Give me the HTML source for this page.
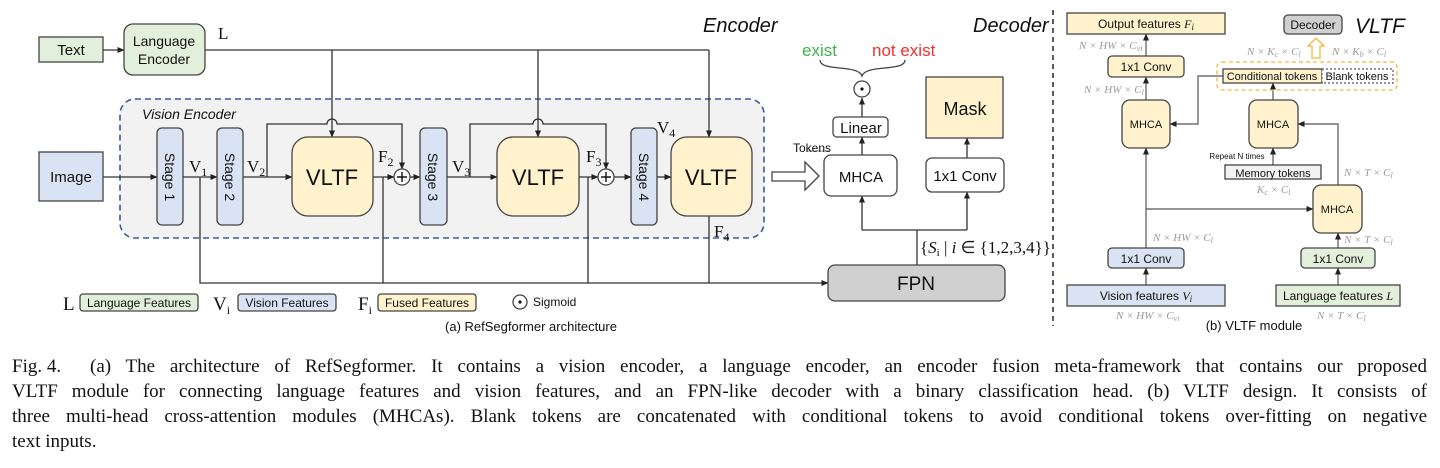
<!DOCTYPE html>
<html><head><meta charset="utf-8"><style>
html,body{margin:0;padding:0;background:#fff;width:1440px;height:468px;overflow:hidden}
svg{position:absolute;left:0;top:0}
.s{font-family:"Liberation Sans",sans-serif;fill:#111}
.r{font-family:"Liberation Serif",serif;fill:#111}
.g{font-family:"Liberation Serif",serif;font-style:italic;fill:#9a9a9a;font-size:11px}
.cap{position:absolute;left:12px;width:1415px;height:25px;font-family:"Liberation Serif",serif;font-size:19px;line-height:25px;color:#111;text-align:justify;text-align-last:justify;white-space:normal;overflow:hidden}
</style></head><body>
<svg width="1440" height="468" viewBox="0 0 1440 468">
<defs>
<marker id="a" viewBox="0 0 8 8" refX="7.5" refY="4" markerWidth="7" markerHeight="7" orient="auto" markerUnits="userSpaceOnUse"><path d="M0,0.5 L8,4 L0,7.5z" fill="#222"/></marker>
</defs>
<g stroke="#333" stroke-width="1.3" fill="none">
<rect x="120" y="99" width="644" height="139" rx="15" fill="#f2f2f2" stroke="#3c5a9a" stroke-width="1.6" stroke-dasharray="6,4"/>
<path d="M103,50H124" marker-end="url(#a)"/>
<path d="M205,50H709"/>
<path d="M332,50V137" marker-end="url(#a)"/>
<path d="M538,50V137" marker-end="url(#a)"/>
<path d="M709,50V137" marker-end="url(#a)"/>
<path d="M103,177H157" marker-end="url(#a)"/>
<path d="M183,177H217" marker-end="url(#a)"/>
<path d="M243,177H292" marker-end="url(#a)"/>
<path d="M373,177H394" marker-end="url(#a)"/>
<path d="M410,177H420" marker-end="url(#a)"/>
<path d="M447,177H497" marker-end="url(#a)"/>
<path d="M579,177H598" marker-end="url(#a)"/>
<path d="M614,177H631" marker-end="url(#a)"/>
<path d="M657,177H671" marker-end="url(#a)"/>
<path d="M267,177V124H327A5,5 0 0 1 337,124H402V169" marker-end="url(#a)"/>
<path d="M470,177V124H533A5,5 0 0 1 543,124H606V169" marker-end="url(#a)"/>
<path d="M200,177V283H828" marker-end="url(#a)"/>
<path d="M383,177V283"/>
<path d="M588,177V283"/>
<path d="M709,216V283"/>
<path d="M917,265V230M862,230H967"/>
<path d="M862,230V196" marker-end="url(#a)"/>
<path d="M967,230V192" marker-end="url(#a)"/>
<path d="M862,155V137" marker-end="url(#a)"/>
<path d="M862,117V98" marker-end="url(#a)"/>
<path d="M967,158V138" marker-end="url(#a)"/>
<path d="M820,60C820,72 858,64 862,76C866,64 905,72 905,60" stroke="#444"/>
</g>
<g stroke="#444" stroke-width="1.3">
<rect x="39" y="37" width="64" height="25" fill="#e2efda"/>
<rect x="124" y="24" width="81" height="51" rx="9" fill="#e2efda"/>
<rect x="39" y="152" width="64" height="49" fill="#dae3f3"/>
<rect x="157" y="128" width="26" height="97" rx="5" fill="#dae3f3"/>
<rect x="217" y="128" width="26" height="97" rx="5" fill="#dae3f3"/>
<rect x="420" y="128" width="27" height="97" rx="5" fill="#dae3f3"/>
<rect x="631" y="128" width="26" height="97" rx="5" fill="#dae3f3"/>
<rect x="292" y="137" width="81" height="79" rx="16" fill="#fff2cc"/>
<rect x="497" y="137" width="82" height="79" rx="16" fill="#fff2cc"/>
<rect x="671" y="137" width="81" height="79" rx="16" fill="#fff2cc"/>
<circle cx="402" cy="177" r="8" fill="#fff"/>
<circle cx="606" cy="177" r="8" fill="#fff"/>
<rect x="828" y="265" width="177" height="36" rx="7" fill="#d0d0d0"/>
<polygon points="772,172 805,172 805,162 819,176 805,190 805,181 772,181" fill="#fff"/>
<rect x="824" y="155" width="73" height="41" rx="7" fill="#fff"/>
<rect x="833" y="117" width="55" height="20" rx="4" fill="#fff"/>
<circle cx="862" cy="89" r="8" fill="#fff"/>
<rect x="926" y="77" width="77" height="61" fill="#fff2cc"/>
<rect x="926" y="158" width="78" height="34" rx="6" fill="#fff"/>
<rect x="80" y="294" width="118" height="17" rx="3" fill="#e2efda"/>
<rect x="238" y="294" width="98" height="17" rx="3" fill="#dae3f3"/>
<rect x="378" y="294" width="98" height="17" rx="3" fill="#fff2cc"/>
<circle cx="520" cy="302" r="7" fill="#fff"/>
</g>
<g stroke="#111" stroke-width="1.4"><path d="M397,177H407M402,172V182M601,177H611M606,172V182"/></g>
<circle cx="862" cy="89" r="1.6" fill="#111"/><circle cx="520" cy="302" r="1.6" fill="#111"/>
<path d="M807,151H830" stroke="#888" stroke-width="1"/>
<g class="s" text-anchor="middle">
<text x="71" y="55" font-size="15">Text</text>
<text x="164" y="46" font-size="14">Language</text>
<text x="164" y="64" font-size="14">Encoder</text>
<text x="71" y="182" font-size="15">Image</text>
<text x="332" y="185" font-size="22">VLTF</text>
<text x="538" y="185" font-size="22">VLTF</text>
<text x="711" y="185" font-size="22">VLTF</text>
<text x="916" y="290" font-size="19">FPN</text>
<text x="861" y="182" font-size="15">MHCA</text>
<text x="861" y="133" font-size="15">Linear</text>
<text x="965" y="115" font-size="18">Mask</text>
<text x="965" y="181" font-size="15">1x1 Conv</text>
<text x="139" y="307" font-size="12">Language Features</text>
<text x="287" y="307" font-size="12">Vision Features</text>
<text x="427" y="307" font-size="12">Fused Features</text>
<text x="531" y="331" font-size="13">(a) RefSegformer architecture</text>
</g>
<g class="s" font-size="14">
<text transform="translate(165,177) rotate(90)" text-anchor="middle">Stage 1</text>
<text transform="translate(225,177) rotate(90)" text-anchor="middle">Stage 2</text>
<text transform="translate(428,177) rotate(90)" text-anchor="middle">Stage 3</text>
<text transform="translate(639,177) rotate(90)" text-anchor="middle">Stage 4</text>
</g>
<text class="s" x="142" y="119" font-size="14" font-style="italic">Vision Encoder</text>
<text class="s" x="793" y="152" font-size="12">Tokens</text>
<text class="s" x="533" y="306" font-size="12">Sigmoid</text>
<text class="s" x="703" y="32" font-size="20" font-style="italic">Encoder</text>
<text class="s" x="973" y="32" font-size="20" font-style="italic">Decoder</text>
<text x="802" y="56" font-size="17" font-family="Liberation Sans,sans-serif" fill="#3fb34f">exist</text>
<text x="872" y="56" font-size="17" font-family="Liberation Sans,sans-serif" fill="#f0302a">not exist</text>
<g class="r" font-size="17">
<text x="218" y="39">L</text>
<text x="189" y="172">V<tspan font-size="12" dy="4">1</tspan></text>
<text x="247" y="172">V<tspan font-size="12" dy="4">2</tspan></text>
<text x="452" y="172">V<tspan font-size="12" dy="4">3</tspan></text>
<text x="657" y="133">V<tspan font-size="12" dy="4">4</tspan></text>
<text x="378" y="162">F<tspan font-size="12" dy="4">2</tspan></text>
<text x="586" y="162">F<tspan font-size="12" dy="4">3</tspan></text>
<text x="714" y="237">F<tspan font-size="12" dy="4">4</tspan></text>
<text x="920" y="253">{<tspan font-style="italic">S</tspan><tspan font-size="11" dy="3">i</tspan><tspan dy="-3"> | </tspan><tspan font-style="italic">i</tspan> ∈ {1,2,3,4}}</text>
<text x="63" y="310" font-size="19">L</text>
<text x="213" y="310" font-size="19">V<tspan font-size="12" dy="4">i</tspan></text>
<text x="358" y="310" font-size="19">F<tspan font-size="12" dy="4">i</tspan></text>
</g>
<path d="M1053,10V326" stroke="#333" stroke-width="1.6" stroke-dasharray="5,4"/>
<g stroke="#555" stroke-width="1.2" fill="none">
<path d="M1146,248V148" marker-end="url(#a)"/>
<path d="M1146,209H1313" marker-end="url(#a)"/>
<path d="M1146,100V77" marker-end="url(#a)"/>
<path d="M1146,56V34" marker-end="url(#a)"/>
<path d="M1146,306V268" marker-end="url(#a)"/>
<path d="M1338,306V268" marker-end="url(#a)"/>
<path d="M1338,248V233" marker-end="url(#a)"/>
<path d="M1338,185V124H1298" marker-end="url(#a)"/>
<path d="M1273,165V148" marker-end="url(#a)"/>
<path d="M1273,100V83" marker-end="url(#a)"/>
<path d="M1223,76H1198V124H1170" marker-end="url(#a)"/>
</g>
<g stroke="#444" stroke-width="1.3">
<rect x="1067" y="13" width="158" height="21" fill="#fff2cc"/>
<rect x="1108" y="56" width="76" height="21" rx="4" fill="#fff2cc"/>
<rect x="1122" y="100" width="48" height="48" rx="8" fill="#fff2cc"/>
<rect x="1249" y="100" width="49" height="48" rx="8" fill="#fff2cc"/>
<rect x="1313" y="185" width="49" height="48" rx="8" fill="#fff2cc"/>
<rect x="1108" y="248" width="76" height="20" rx="4" fill="#dae3f3"/>
<rect x="1301" y="248" width="74" height="20" rx="4" fill="#e2efda"/>
<rect x="1067" y="285" width="158" height="21" fill="#dae3f3"/>
<rect x="1276" y="285" width="124" height="21" fill="#e2efda"/>
<rect x="1225" y="165" width="96" height="14" fill="#f2f2f2"/>
<rect x="1223" y="69" width="99" height="14" fill="#fff2cc"/>
<rect x="1284" y="15" width="58" height="19" rx="4" fill="#d0d0d0"/>
</g>
<rect x="1322" y="69" width="71" height="14" fill="#fff" stroke="#555" stroke-width="1.2" stroke-dasharray="2,2"/>
<rect x="1217" y="62" width="180" height="28" rx="5" fill="none" stroke="#f5b83d" stroke-width="1.3" stroke-dasharray="4,3"/>
<polygon points="1312,58 1312,46 1308,46 1316,38 1324,46 1320,46 1320,58" fill="#fff" stroke="#f5b83d" stroke-width="1.3"/>
<g class="s" text-anchor="middle" font-size="12">
<text x="1146" y="28">Output features <tspan font-family="Liberation Serif" font-style="italic">F<tspan font-size="9" dy="2">i</tspan></tspan></text>
<text x="1146" y="71">1x1 Conv</text>
<text x="1146" y="128" font-size="11">MHCA</text>
<text x="1273" y="128" font-size="11">MHCA</text>
<text x="1337" y="213" font-size="11">MHCA</text>
<text x="1146" y="263">1x1 Conv</text>
<text x="1338" y="263">1x1 Conv</text>
<text x="1146" y="300">Vision features <tspan font-family="Liberation Serif" font-style="italic">V<tspan font-size="9" dy="2">i</tspan></tspan></text>
<text x="1338" y="300">Language features <tspan font-family="Liberation Serif" font-style="italic">L</tspan></text>
<text x="1273" y="177" font-size="11">Memory tokens</text>
<text x="1272" y="80" font-size="11">Conditional tokens</text>
<text x="1357" y="80" font-size="11">Blank tokens</text>
<text x="1313" y="29" font-size="12">Decoder</text>
<text x="1254" y="330" font-size="13">(b) VLTF module</text>
</g>
<text class="s" x="1237" y="159" font-size="8" text-anchor="middle">Repeat N times</text>
<text class="s" x="1355" y="33" font-size="21" font-style="italic">VLTF</text>
<g class="g">
<text x="1079" y="49">N × HW × C<tspan font-size="8" dy="2">vi</tspan></text>
<text x="1084" y="93">N × HW × C<tspan font-size="8" dy="2">l</tspan></text>
<text x="1247" y="55">N × K<tspan font-size="8" dy="2">c</tspan><tspan dy="-2"> × C</tspan><tspan font-size="8" dy="2">l</tspan></text>
<text x="1332" y="55">N × K<tspan font-size="8" dy="2">b</tspan><tspan dy="-2"> × C</tspan><tspan font-size="8" dy="2">l</tspan></text>
<text x="1257" y="193">K<tspan font-size="8" dy="2">c</tspan><tspan dy="-2"> × C</tspan><tspan font-size="8" dy="2">l</tspan></text>
<text x="1344" y="176">N × T × C<tspan font-size="8" dy="2">l</tspan></text>
<text x="1344" y="243">N × T × C<tspan font-size="8" dy="2">l</tspan></text>
<text x="1153" y="241">N × HW × C<tspan font-size="8" dy="2">l</tspan></text>
<text x="1116" y="319">N × HW × C<tspan font-size="8" dy="2">vi</tspan></text>
<text x="1317" y="319">N × T × C<tspan font-size="8" dy="2">l</tspan></text>
</g>
</svg>
<div class="cap" style="top:354px;text-align-last:left;width:80px">Fig. 4.</div>
<div class="cap" style="top:354px;left:90px;width:1337px">(a) The architecture of RefSegformer. It contains a vision encoder, a language encoder, an encoder fusion meta-framework that contains our proposed</div>
<div class="cap" style="top:379px">VLTF module for connecting language features and vision features, and an FPN-like decoder with a binary classification head. (b) VLTF design. It consists of</div>
<div class="cap" style="top:404px">three multi-head cross-attention modules (MHCAs). Blank tokens are concatenated with conditional tokens to avoid conditional tokens over-fitting on negative</div>
<div class="cap" style="top:429px;text-align-last:left">text inputs.</div>
</body></html>
